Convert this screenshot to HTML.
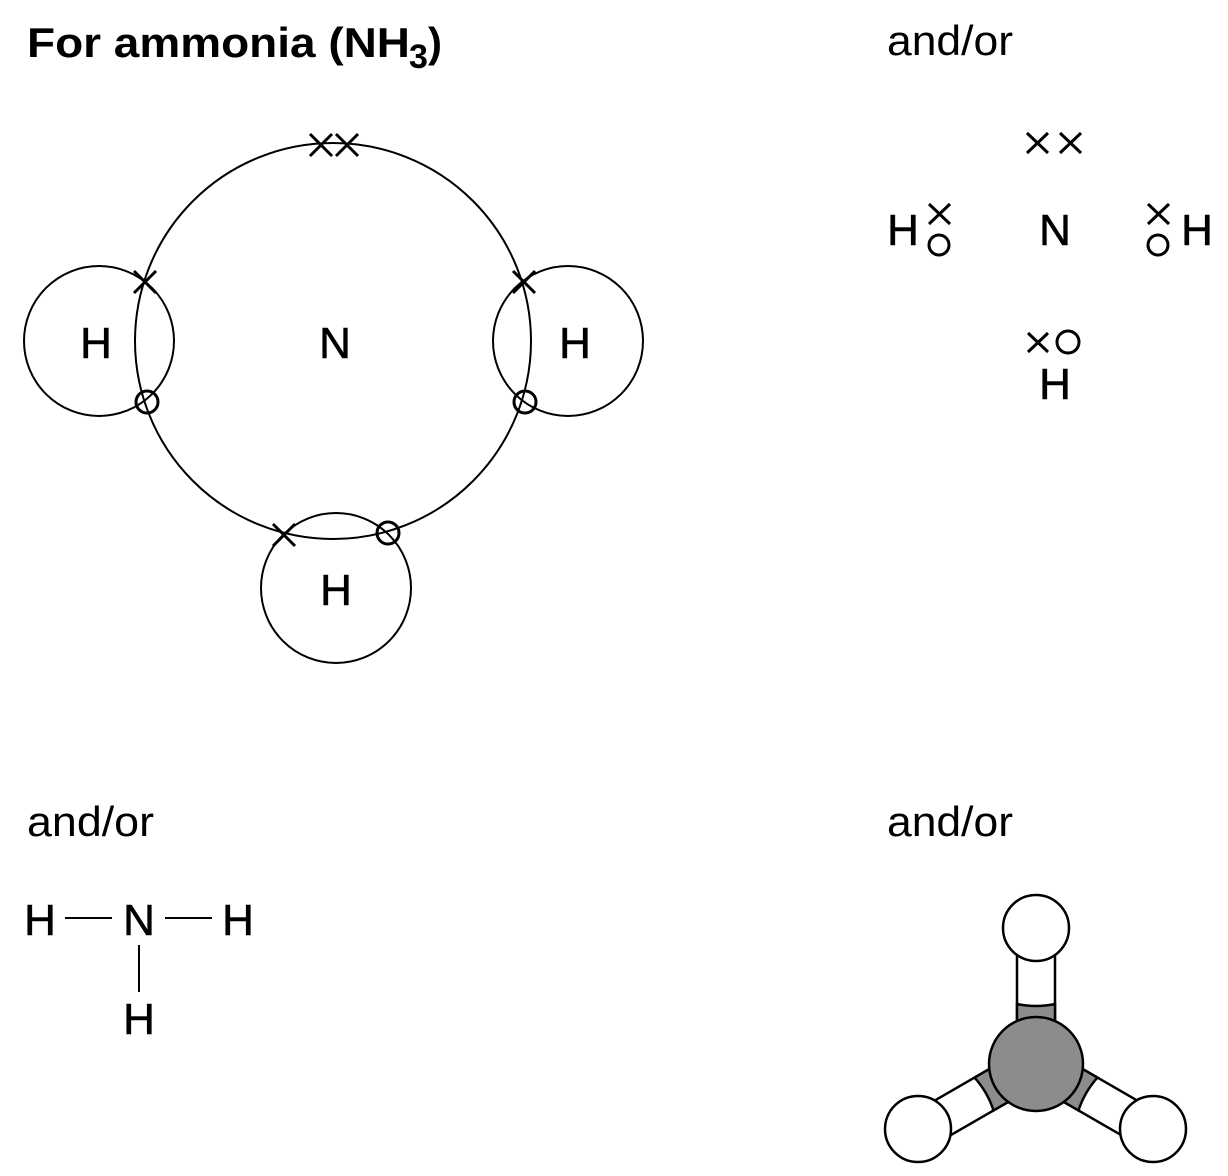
<!DOCTYPE html>
<html><head><meta charset="utf-8"><style>
html,body{margin:0;padding:0;background:#fff}
svg{display:block}
text{font-family:"Liberation Sans",Arial,sans-serif;fill:#000}
.t{font-size:44px;text-anchor:middle;stroke:#000;stroke-width:0.6}
.a{font-size:42px}
</style></head><body>
<svg width="1228" height="1176" viewBox="0 0 1228 1176" xmlns="http://www.w3.org/2000/svg">
<text x="27" y="57" font-size="42" font-weight="bold" textLength="383" lengthAdjust="spacingAndGlyphs">For ammonia (NH</text>
<text x="409" y="68" font-size="34" font-weight="bold">3</text>
<text x="428" y="57" font-size="42" font-weight="bold">)</text>

<text class="a" x="887" y="55" textLength="126" lengthAdjust="spacingAndGlyphs">and/or</text>
<text class="a" x="27" y="836" textLength="127" lengthAdjust="spacingAndGlyphs">and/or</text>
<text class="a" x="887" y="836" textLength="126" lengthAdjust="spacingAndGlyphs">and/or</text>

<g fill="none" stroke="#000" stroke-width="2">
<circle cx="333" cy="341" r="198"/>
<circle cx="99" cy="341" r="75"/>
<circle cx="568" cy="341" r="75"/>
<circle cx="336" cy="588" r="75"/>
</g>
<g stroke="#000" stroke-width="3" fill="none">
<path d="M310 134l22 22M332 134l-22 22M336 134l22 22M358 134l-22 22"/>
<path d="M134 271l22 22M156 271l-22 22"/>
<path d="M513 271l22 22M535 271l-22 22"/>
<path d="M273 524l22 22M295 524l-22 22"/>
<circle cx="147" cy="402" r="11"/>
<circle cx="525" cy="402" r="11"/>
<circle cx="388" cy="533" r="11"/>
</g>
<text class="t" x="96" y="358">H</text>
<text class="t" x="335" y="358">N</text>
<text class="t" x="575" y="358">H</text>
<text class="t" x="336" y="605">H</text>

<g stroke="#000" stroke-width="3" fill="none">
<path d="M1027 133l21 20M1048 133l-21 20M1060 133l21 20M1081 133l-21 20"/>
<path d="M929 204l21 20M950 204l-21 20"/>
<path d="M1148 204l21 20M1169 204l-21 20"/>
<path d="M1028 333l20 19M1048 333l-20 19"/>
<circle cx="939" cy="245" r="10"/>
<circle cx="1158" cy="245" r="10"/>
<circle cx="1068" cy="342" r="11"/>
</g>
<text class="t" x="903" y="245">H</text>
<text class="t" x="1055" y="245">N</text>
<text class="t" x="1197" y="245">H</text>
<text class="t" x="1055" y="399">H</text>

<text class="t" x="40" y="935">H</text>
<text class="t" x="139" y="935">N</text>
<text class="t" x="238" y="935">H</text>
<text class="t" x="139" y="1034">H</text>
<g stroke="#000" stroke-width="2">
<line x1="65" y1="918" x2="112" y2="918"/>
<line x1="165" y1="918" x2="212" y2="918"/>
<line x1="139" y1="945" x2="139" y2="992"/>
</g>

<g stroke="#000" stroke-width="2.5">
<rect x="1017" y="950" width="38" height="70" fill="#fff"/>
<path d="M1017 1004 Q1036 1008 1055 1004 L1055 1030 L1017 1030 Z" fill="#8c8c8c"/>
<g transform="rotate(120 1036 1064)">
<rect x="1017" y="950" width="38" height="70" fill="#fff"/>
<path d="M1017 1004 Q1036 1008 1055 1004 L1055 1030 L1017 1030 Z" fill="#8c8c8c"/>
</g>
<g transform="rotate(-120 1036 1064)">
<rect x="1017" y="950" width="38" height="70" fill="#fff"/>
<path d="M1017 1004 Q1036 1008 1055 1004 L1055 1030 L1017 1030 Z" fill="#8c8c8c"/>
</g>
<circle cx="1036" cy="1064" r="47" fill="#8c8c8c"/>
<circle cx="1036" cy="928" r="33" fill="#fff"/>
<circle cx="918" cy="1129" r="33" fill="#fff"/>
<circle cx="1153" cy="1129" r="33" fill="#fff"/>
</g>
</svg>
</body></html>
